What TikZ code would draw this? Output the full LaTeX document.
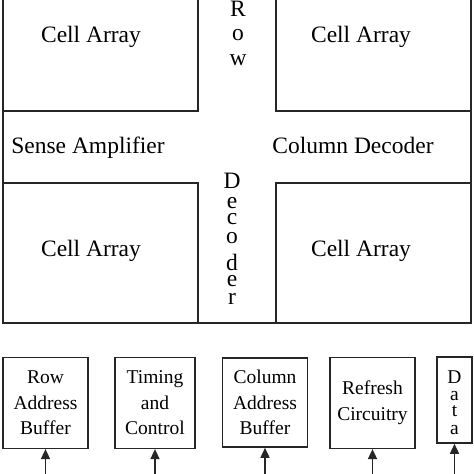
\documentclass[tikz,border=0pt]{standalone}
\usepackage{fontspec}
\setmainfont{Liberation Serif}
\usetikzlibrary{arrows.meta}
\begin{document}
\begin{tikzpicture}[x=1pt,y=-1pt,
  frame/.style={line width=1.6pt,draw=black!85},
  big/.style={font=\fontsize{23.5}{26}\selectfont,inner sep=0pt,anchor=base},
  letter/.style={font=\fontsize{23.5}{26}\selectfont,inner sep=0pt,anchor=base},
  sletter/.style={font=\fontsize{19.5}{20}\selectfont,inner sep=0pt,anchor=base},
  buf/.style={draw=black!85,line width=1.6pt,align=center,inner sep=0pt,
    font=\fontsize{19.5}{25.7}\selectfont},
  inarrow/.style={line width=1.6pt,draw=black!85,-{Triangle[length=10pt,width=9pt]}}]
\useasboundingbox (0,0) rectangle (474,474);
\fill[white] (0,0) rectangle (474,474);
% outer frame
\draw[frame] (3,-2) -- (3,323) -- (471,323) -- (471,-2);
% cell arrays
\draw[frame] (198,-2) -- (198,111) -- (3,111);
\draw[frame] (276,-2) -- (276,111) -- (471,111);
\draw[frame] (3,183) -- (198,183) -- (198,323);
\draw[frame] (471,183) -- (276,183) -- (276,323);
% labels
\node[big] (ca1) at (91,42.7) {Cell Array};
\node[big] (ca2) at (361,42.7) {Cell Array};
\node[big] (ca3) at (91,256) {Cell Array};
\node[big] (ca4) at (361,256) {Cell Array};
\node[big] (sa) at (88,153) {Sense Amplifier};
\node[big] (cd) at (353,153) {Column Decoder};
% Row (vertical)
\node[letter] (r1) at (238,16.7) {R};
\node[letter] (r2) at (238,40) {o};
\node[letter] (r3) at (238,65) {w};
% Decoder (vertical)
\node[letter] (d1) at (232,188) {D};
\node[letter] (d2) at (232,208) {e};
\node[letter] (d3) at (232,224.5) {c};
\node[letter] (d4) at (232,243) {o};
\node[letter] (d5) at (232,270) {d};
\node[letter] (d6) at (232,286) {e};
\node[letter] (d7) at (232,304) {r};
% bottom boxes
\node[buf,minimum width=85pt,minimum height=91pt] (rab) at (45.5,402.8) {Row\\Address\\Buffer};
\node[buf,minimum width=80pt,minimum height=91pt] (tc) at (155,402.8) {Timing\\and\\Control};
\node[buf,minimum width=85pt,minimum height=89pt] (cab) at (265,402.5) {Column\\Address\\Buffer};
\node[buf,minimum width=85pt,minimum height=91pt] (rc) at (372.5,402.8) {Refresh\\Circuitry};
\node[draw=black!85,line width=1.6pt,inner sep=0pt,minimum width=35pt,minimum height=86pt] (data) at (454.5,400) {};
\node[sletter] (da1) at (454.5,383) {D};
\node[sletter] (da2) at (454.5,400) {a};
\node[sletter] (da3) at (454.5,416.7) {t};
\node[sletter] (da4) at (454.5,434) {a};
% arrows
\coordinate (i1) at (rab.south |- 0,476);
\coordinate (i2) at (tc.south |- 0,476);
\coordinate (i3) at (cab.south |- 0,476);
\coordinate (i4) at (rc.south |- 0,476);
\coordinate (i5) at (data.south |- 0,476);
\draw[inarrow] (i1) -- (rab.south);
\draw[inarrow] (i2) -- (tc.south);
\draw[inarrow] (i3) -- (cab.south);
\draw[inarrow] (i4) -- (rc.south);
\draw[inarrow] (i5) -- (data.south);
\end{tikzpicture}
\end{document}
